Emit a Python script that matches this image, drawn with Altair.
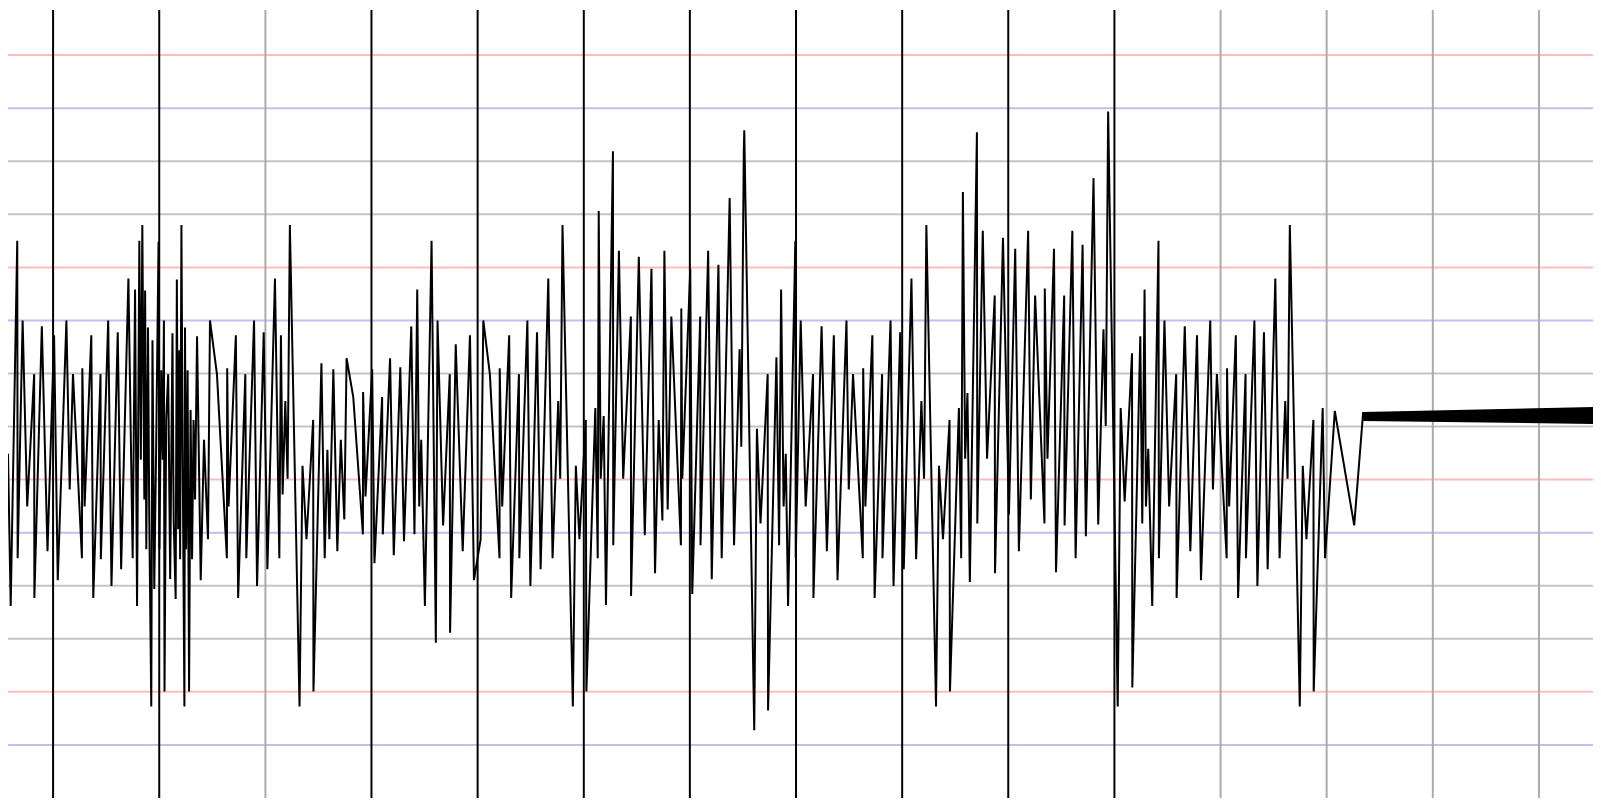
import altair as alt
import pandas as pd

# ---- seismogram trace: time (t) and amplitude (a) ----
t1 = [0, 4, 5.7, 8, 10.7, 17.3, 17.7, 22.7, 27.3, 34.3, 34.5, 42, 47.7, 54.3, 58, 66.7, 70, 73.3, 82.3, 82.7,
      85, 91.7, 93.7, 101, 101.3, 108.7, 112, 118.3, 121.7, 129, 133.3, 135.7, 137.7, 140, 141.5, 143, 145, 145.8,
      147, 148.7, 150, 152, 153.2, 155, 157, 159.3, 160.2, 162, 163.5, 164.7, 165.3, 167, 169, 171, 173.3, 174.5,
      176.5, 177.7, 179, 180.2, 181, 182.3, 183.5, 185.3, 185.9, 187, 188.5, 190, 191.5, 193, 194.5, 196, 198,
      201.7, 205, 209, 211, 218, 228, 228.3]
a1 = [-16, 111, -107, -54, -207, 160, -159, 80, -107, 26, -199, 74, -152, 65, -181, 80, -90, 26, -159, 32,
      -107, 65, -199, 26, -160, 80, -187, 68, -170, 122, -159, 111, -207, 160, -60, 176, -100, 110,
      -150, 73, -120, -308, 60, -190, -40, 159, -150, 30, -60, 80, -293, -20, 26, -180, 67, -120,
      -200, 121, -130, 50, -160, 176, -50, -308, 73, -150, 30, -293, -10, -160, -20, -100, 64,
      -181, -40, -140, 80, 26, -159, 32]

t2 = [229.7, 237, 239.3, 246.5, 247.5, 255.3, 258.3, 265, 268.7, 276.3, 280.7, 282.3, 284, 286.7, 289, 291.3,
      301, 304, 308, 314.7, 315, 323, 326.3, 329, 331, 335, 339, 342.5, 346, 348.3, 355, 364.7, 364.9, 367.3,
      374, 376.3, 384, 384.7, 392, 395.7, 402.3, 406, 413.3, 416.5, 419.3, 421.3, 423.3, 427, 433.7, 438,
      439.7, 445.3, 452, 452.3, 458]
a2 = [-107, 65, -199, 26, -159, 80, -187, 68, -170, 122, -159, 65, -95, -1, -79, 176,
      -308, -66, -140, -20, -293, 37, -159, -50, -140, 31, -152, -40, -120, 42, 3, -135, 8, -97,
      31, -164, 3, -135, 42, -156, 33, -142, 74, -135, 111, -107, -40, -207, 160, -244,
      80, -126, 26, -234, 56]

t3 = [465, 472.3, 476.3, 483, 485.7, 492.3, 502, 502.2, 504.7, 511.7, 513.7, 521.5, 521.9, 530, 533, 539.7,
      543.3, 551, 555.3, 561, 563, 565.3, 575.7, 578.7, 582.3, 588.7, 589.3, 598.3, 600.7, 601.7, 603.7,
      606.7, 609, 616, 616.3, 622, 626.3, 634, 634.2, 642, 648, 654.7, 658.3, 662, 665.7, 667.7, 671,
      674.7, 684.3]
a3 = [-152, 65, -181, -140, 80, 26, -159, 32, -107, 65, -199, 26, -159, 80, -187, 68,
      -170, 122, -159, -1, -79, 176, -308, -66, -140, -20, -293, -8, -159, 190, -79,
      -16, -206, 250, -146, 150, -79, 84, -197, 144, -136, 132, -174, -20, -121, 150, -110,
      84, -146]

t4 = [684.7, 685.7, 693.7, 695.7, 703.7, 704, 711.7, 715.3, 722, 725.3, 733.3, 737.7, 743.3, 745, 747.5,
      748, 758, 760.7, 764.3, 771.5, 771.9, 780.3, 783, 785, 787.5, 789.7, 792, 799.3, 799.7, 804.7, 809.7,
      817.1, 817.5, 825.7, 831, 838, 841.7, 850.7, 853, 857.3, 867.1, 867.5, 869.7, 876.7, 879, 886.5,
      886.9, 895, 898, 904.7, 908.3]
a4 = [92, -79, 132, -195, 84, -146, 150, -180, 136, -159, 203, -146, 51, -47, 250,
      271, -332, -29, -124, 26, -312, 43, -146, 111, -107, -54, -207, 160, -159, 80, -107,
      26, -199, 74, -152, 65, -181, 80, -90, 26, -159, 32, -107, 65, -199, 26,
      -159, 80, -187, 68, -170]

t5 = [916, 920.7, 926, 928.7, 931, 940.7, 943.7, 947.7, 954.3, 954.7, 963.7, 966, 967.7, 970, 972.3, 974.7,
      981.8, 982.2, 987.7, 992, 999.7, 1000, 1008, 1014, 1020.3, 1024, 1033.3, 1036, 1040.3, 1049.7, 1050,
      1052.7, 1059.3, 1061.3, 1069.5, 1069.9, 1077.7, 1081, 1088, 1091.3, 1099, 1103.7, 1109, 1111.3,
      1113.7, 1123.3, 1126.3, 1130.3, 1137.7, 1138]
a5 = [122, -160, -1, -79, 176, -308, -66, -140, -20, -293, -8, -159, 209, -59, 7, -183,
      269, -124, 170, -59, 105, -174, 163, -115, 152, -152, 170, -100, 105, -124, 112,
      -59, 152, -173, 105, -126, 170, -159, 156, -137, 223, -125, 71, -26,
      290, -308, -8, -102, 47, -289]

t6 = [1146, 1148, 1150.3, 1151.7, 1154, 1158, 1164.3, 1164.7, 1170.3, 1175, 1182.1, 1182.5, 1190.7, 1196.3,
      1203, 1207, 1216.3, 1219, 1223, 1232.8, 1233.2, 1235.3, 1242, 1244.3, 1251.8, 1252.2, 1260.7, 1263.7,
      1270.3, 1274, 1281.7, 1286, 1291.7, 1294, 1296.3, 1306.3, 1309.3, 1313, 1320, 1320.3, 1329.3, 1331.7,
      1341.5, 1361, 1370]
a6 = [64, -124, 111, -107, -49, -207, 160, -159, 80, -107, 26, -199, 74, -152,
      65, -181, 80, -90, 26, -159, 32, -107, 65, -199, 26, -159, 80, -187,
      68, -170, 122, -159, -1, -79, 176, -308, -66, -140, -20, -293, -8, -159,
      -11, -126, -12]

# ---- the flat, widening band at the end of the record ----
band_t = [1370, 1601]
band_top = [-12, -7]
band_bottom = [-21, -24]

# ---- grid ----
h_vals = [346.7, 293.3, 240, 186.7, 133.3, 80, 26.7, -26.7, -80, -133.3, -186.7, -240, -293.3, -346.7]
h_cols = ["#ffbcbc", "#bfbff0", "#c4c4c4", "#c4c4c4", "#ffbcbc", "#bfbff0", "#c4c4c4",
          "#c4c4c4", "#ffbcbc", "#bfbff0", "#c4c4c4", "#c4c4c4", "#ffbcbc", "#bfbff0"]
v_vals = [53.3, 160, 266.7, 373.3, 480, 586.7, 693.3, 800, 906.7, 1013.3, 1120, 1226.7, 1333.3, 1440, 1546.7]
v_black = [True, True, False, True, True, True, True, True, True, True, True, False, False, False, False]

T = t1 + t2 + t3 + t4 + t5 + t6
A = a1 + a2 + a3 + a4 + a5 + a6
trace = pd.DataFrame({"t": T, "a": A, "i": list(range(len(T)))})
band = pd.DataFrame({"t": band_t, "top": band_top, "bot": band_bottom})
hgrid = pd.DataFrame({"a": h_vals, "c": h_cols})
vgray = pd.DataFrame({"t": [v for v, b in zip(v_vals, v_black) if not b]})
vblack = pd.DataFrame({"t": [v for v, b in zip(v_vals, v_black) if b]})

xs = alt.Scale(domain=[8, 1601], nice=False, zero=False)
ys = alt.Scale(domain=[-400, 392], nice=False, zero=False)

h_layer = alt.Chart(hgrid).mark_rule(strokeWidth=2).encode(
    y=alt.Y("a:Q", scale=ys, axis=None),
    color=alt.Color("c:N", scale=None, legend=None),
)
vg_layer = alt.Chart(vgray).mark_rule(strokeWidth=2, color="#ababab").encode(
    x=alt.X("t:Q", scale=xs, axis=None)
)
vb_layer = alt.Chart(vblack).mark_rule(strokeWidth=2, color="#000000").encode(
    x=alt.X("t:Q", scale=xs, axis=None)
)
line_layer = alt.Chart(trace).mark_line(color="#000000", strokeWidth=2, clip=True).encode(
    x=alt.X("t:Q", scale=xs, axis=None),
    y=alt.Y("a:Q", scale=ys, axis=None),
    order=alt.Order("i:Q"),
)
band_layer = alt.Chart(band).mark_area(color="#000000", clip=True).encode(
    x=alt.X("t:Q", scale=xs, axis=None),
    y=alt.Y("top:Q", scale=ys, axis=None),
    y2="bot:Q",
)

chart = alt.layer(h_layer, vg_layer, vb_layer, line_layer, band_layer).properties(
    width=1593, height=792, padding=0, autosize="none", background="white"
).configure_view(strokeWidth=0)

chart.save("out.html", embed_options={"renderer": "svg", "actions": False})
